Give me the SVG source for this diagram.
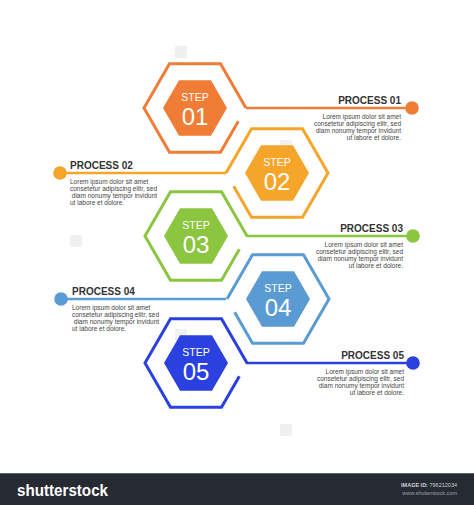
<svg xmlns="http://www.w3.org/2000/svg" width="474" height="505" viewBox="0 0 474 505">
<defs>
<style>
.ring{fill:none;stroke-width:3;stroke-linejoin:miter;stroke-linecap:butt}
.conn{fill:none;stroke-width:2.5}
.step{font-family:"Liberation Sans",Arial,sans-serif;font-size:10.5px;fill:#fff;text-anchor:middle}
.num{font-family:"Liberation Sans",Arial,sans-serif;font-size:24px;fill:#fff;text-anchor:middle}
.ttl{font-family:"Liberation Sans",Arial,sans-serif;font-size:10px;font-weight:bold;fill:#333}
.body{font-family:"Liberation Sans",Arial,sans-serif;font-size:6.5px;fill:#444}
.r{text-anchor:end}
.wm{fill:#f0f0f0}
</style>
<path id="inner" d="M32,0 L16,27.7 L-16,27.7 L-32,0 L-16,-27.7 L16,-27.7 Z"/>
<path id="ringR" d="M43.35,13.26 L25.5,44.2 L-25.5,44.2 L-51,0 L-25.5,-44.2 L25.5,-44.2 L51,0"/>
<path id="ringL" d="M-43.35,13.26 L-25.5,44.2 L25.5,44.2 L51,0 L25.5,-44.2 L-25.5,-44.2 L-51,0"/>
</defs>
<rect width="474" height="505" fill="#fff"/>

<g id="watermarks">
<rect class="wm" x="175" y="46" width="12" height="12" rx="1"/>
<rect class="wm" x="280" y="140" width="12" height="12" rx="1"/>
<rect class="wm" x="70" y="235" width="12" height="12" rx="1"/>
<rect class="wm" x="175" y="329" width="12" height="12" rx="1"/>
<rect class="wm" x="280" y="424" width="12" height="12" rx="1"/>
</g>

<g id="connectors">
<line class="conn" x1="246" y1="108" x2="412" y2="108" stroke="#EF7D35"/>
<circle cx="412" cy="108" r="6.8" fill="#EF7D35"/>
<line class="conn" x1="226" y1="173" x2="60" y2="173" stroke="#F6A52B"/>
<circle cx="60" cy="173" r="6.8" fill="#F6A52B"/>
<line class="conn" x1="246" y1="236" x2="413" y2="236" stroke="#8CC540"/>
<circle cx="413" cy="236" r="6.8" fill="#8CC540"/>
<line class="conn" x1="226" y1="299" x2="61" y2="299" stroke="#5B9BD3"/>
<circle cx="61" cy="299" r="6.8" fill="#5B9BD3"/>
<line class="conn" x1="246" y1="363" x2="413" y2="363" stroke="#2A40DF"/>
<circle cx="413" cy="363" r="6.8" fill="#2A40DF"/>
</g>

<g id="step01">
<g transform="translate(195,108)">
<use href="#ringR" class="ring" stroke="#EF7D35"/>
<use href="#inner" fill="#EF7D35"/>
<text class="step" x="0" y="-7.5">STEP</text>
<text class="num" x="0" y="17">01</text>
</g>
<text class="ttl r" x="401" y="104">PROCESS 01</text>
<text class="body r" x="401"><tspan x="401" y="118.5">Lorem ipsum dolor sit amet</tspan><tspan x="401" y="125.8">consetetur adipiscing elitr, sed</tspan><tspan x="401" y="133.1">diam nonumy tempor invidunt</tspan><tspan x="401" y="140.4">ut labore et dolore.</tspan></text>
</g>

<g id="step02">
<g transform="translate(277,173)">
<use href="#ringL" class="ring" stroke="#F6A52B"/>
<use href="#inner" fill="#F6A52B"/>
<text class="step" x="0" y="-7.5">STEP</text>
<text class="num" x="0" y="17">02</text>
</g>
<text class="ttl" x="70" y="168.5">PROCESS 02</text>
<text class="body" x="70"><tspan x="70" y="183.5">Lorem ipsum dolor sit amet</tspan><tspan x="70" y="190.8">consetetur adipiscing elitr, sed</tspan><tspan x="70" y="198.1" xml:space="preserve"> diam nonumy tempor invidunt</tspan><tspan x="70" y="205.4">ut labore et dolore.</tspan></text>
</g>

<g id="step03">
<g transform="translate(196,236)">
<use href="#ringR" class="ring" stroke="#8CC540"/>
<use href="#inner" fill="#8CC540"/>
<text class="step" x="0" y="-7.5">STEP</text>
<text class="num" x="0" y="17">03</text>
</g>
<text class="ttl r" x="403" y="231.5">PROCESS 03</text>
<text class="body r" x="403"><tspan x="403" y="246.5">Lorem ipsum dolor sit amet</tspan><tspan x="403" y="253.8">consetetur adipiscing elitr, sed</tspan><tspan x="403" y="261.1">diam nonumy tempor invidunt</tspan><tspan x="403" y="268.4">ut labore et dolore.</tspan></text>
</g>

<g id="step04">
<g transform="translate(278,299)">
<use href="#ringL" class="ring" stroke="#5B9BD3"/>
<use href="#inner" fill="#5B9BD3"/>
<text class="step" x="0" y="-7.5">STEP</text>
<text class="num" x="0" y="17">04</text>
</g>
<text class="ttl" x="72" y="294.5">PROCESS 04</text>
<text class="body" x="72"><tspan x="72" y="309.5">Lorem ipsum dolor sit amet</tspan><tspan x="72" y="316.8">consetetur adipiscing elitr, sed</tspan><tspan x="72" y="324.1" xml:space="preserve"> diam nonumy tempor invidunt</tspan><tspan x="72" y="331.4">ut labore et dolore.</tspan></text>
</g>

<g id="step05">
<g transform="translate(196,363)">
<use href="#ringR" class="ring" stroke="#2A40DF"/>
<use href="#inner" fill="#2A40DF"/>
<text class="step" x="0" y="-7.5">STEP</text>
<text class="num" x="0" y="17">05</text>
</g>
<text class="ttl r" x="404" y="358.5">PROCESS 05</text>
<text class="body r" x="404"><tspan x="404" y="373.5">Lorem ipsum dolor sit amet</tspan><tspan x="404" y="380.8">consetetur adipiscing elitr, sed</tspan><tspan x="404" y="388.1">diam nonumy tempor invidunt</tspan><tspan x="404" y="395.4">ut labore et dolore.</tspan></text>
</g>

<g id="footer">
<rect x="0" y="473" width="474" height="32" fill="#262a33"/>
<rect x="0" y="473" width="474" height="1" fill="#5a5f68"/>
<text x="17" y="496" font-family="'Liberation Sans',Arial,sans-serif" font-size="17" font-weight="bold" fill="#fff" textLength="91" lengthAdjust="spacingAndGlyphs">shutterstock</text>
<text x="457" y="487" font-family="'Liberation Sans',Arial,sans-serif" font-size="5.5" fill="#cfd2d6" text-anchor="end"><tspan font-weight="bold">IMAGE ID:</tspan> 796212034</text>
<text x="457" y="495" font-family="'Liberation Sans',Arial,sans-serif" font-size="5.5" fill="#9ea2a8" text-anchor="end">www.shutterstock.com</text>
</g>
</svg>
